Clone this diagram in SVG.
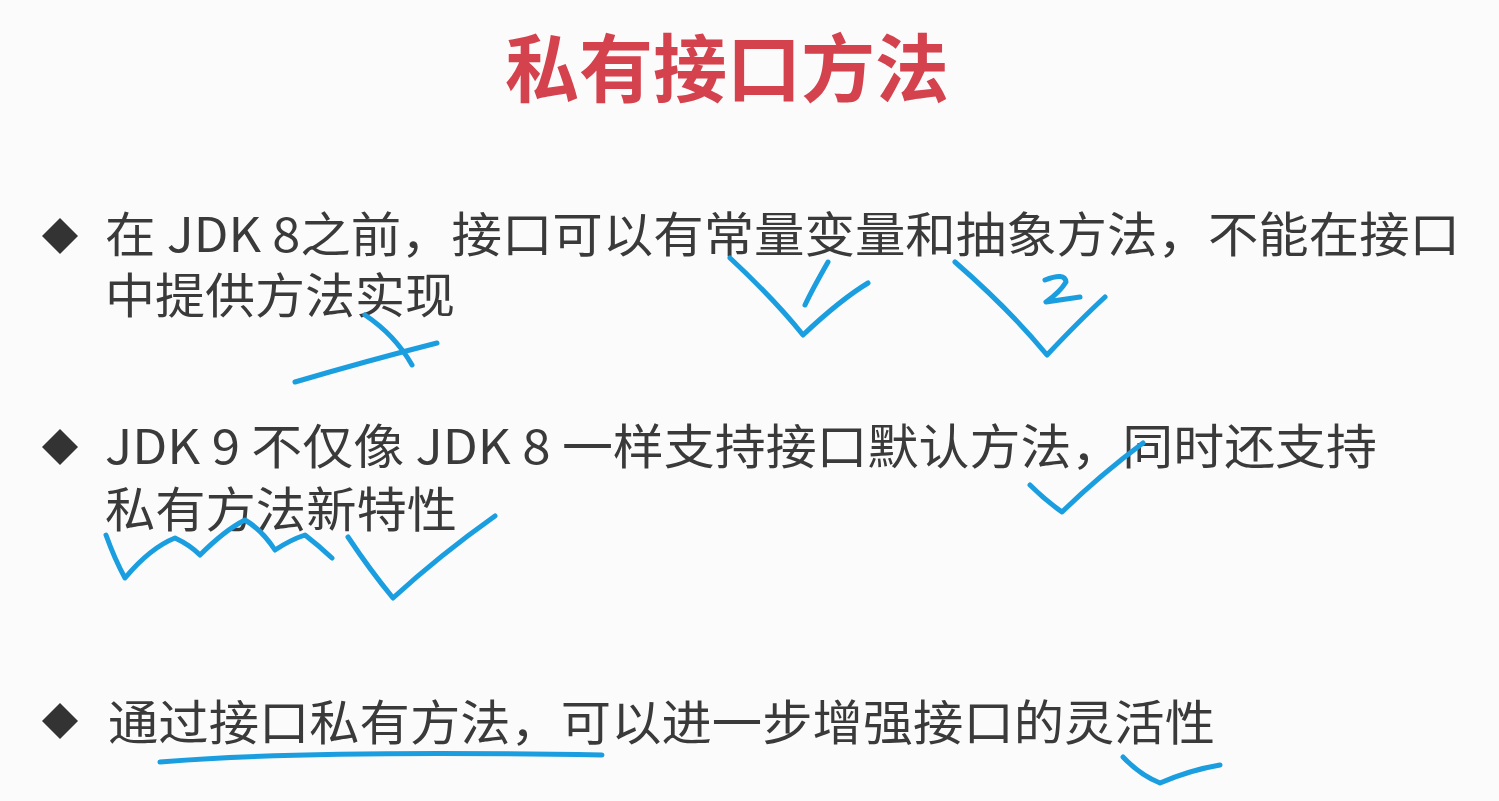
<svg xmlns="http://www.w3.org/2000/svg" width="1499" height="801" viewBox="0 0 1499 801">
<style>
.t{font-family:"Noto Sans CJK SC","Liberation Sans",sans-serif;font-size:48px;fill:#3a3a3a}
.h{font-family:"Noto Sans CJK SC",sans-serif;font-size:74px;font-weight:bold;fill:#d4424e}
.b{fill:#333}
.a{fill:none;stroke:#1a9ee0;stroke-width:5;stroke-linecap:round;stroke-linejoin:round}
</style>
<rect width="1499" height="801" fill="#fbfbfb"/>
<g id="title"><text class="h" x="727" y="96" text-anchor="middle">私有接口方法</text></g>
<g id="bullet1">
<path class="b" d="M60 218 l18 18 -18 18 -18 -18z"/>
<text class="t" x="105" y="252" textLength="1355" lengthAdjust="spacingAndGlyphs">在 JDK 8之前，接口可以有常量变量和抽象方法，不能在接口</text>
<text class="t" x="105" y="313" textLength="350" lengthAdjust="spacingAndGlyphs">中提供方法实现</text>
</g>
<g id="bullet2">
<path class="b" d="M60 429 l18 18 -18 18 -18 -18z"/>
<text class="t" x="105" y="464" textLength="1272" lengthAdjust="spacingAndGlyphs">JDK 9 不仅像 JDK 8 一样支持接口默认方法，同时还支持</text>
<text class="t" x="105" y="527" textLength="352" lengthAdjust="spacingAndGlyphs">私有方法新特性</text>
</g>
<g id="bullet3">
<path class="b" d="M60 703 l18 18 -18 18 -18 -18z"/>
<text class="t" x="108" y="740" textLength="1107" lengthAdjust="spacingAndGlyphs">通过接口私有方法，可以进一步增强接口的灵活性</text>
</g>
<g id="annotations">
<path class="a" d="M295 382 Q370 360 437 343"/>
<path class="a" d="M365 315 Q395 335 412 365"/>
<path class="a" d="M730 258 Q775 300 803 335 Q840 300 868 283"/>
<path class="a" d="M828 262 Q812 290 805 305"/>
<path class="a" d="M955 262 Q1010 310 1047 355 Q1080 320 1105 297"/>
<path class="a" d="M1045 280 Q1065 272 1066 282 Q1060 292 1046 302 L1080 297"/>
<path class="a" d="M1030 485 Q1045 500 1062 512 Q1100 475 1143 443"/>
<path class="a" d="M106 535 Q115 560 125 578 Q150 548 175 538 Q190 545 200 555 Q225 530 245 520 Q262 530 275 550 Q290 540 305 535 Q318 545 332 558"/>
<path class="a" d="M348 537 Q370 570 393 598 Q440 555 495 516"/>
<path class="a" d="M160 762 Q300 750 602 755"/>
<path class="a" d="M1123 757 Q1140 775 1160 783 Q1190 770 1220 765"/>
</g>
</svg>
